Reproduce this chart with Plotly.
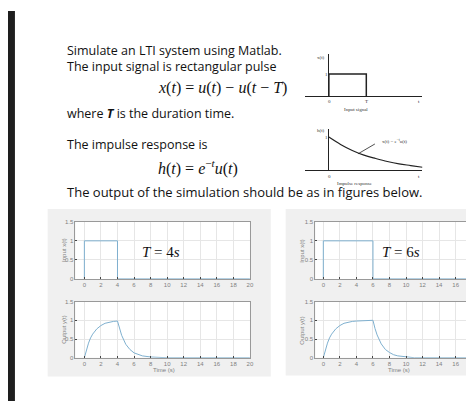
import plotly.graph_objects as go

W, H = 474, 401

# main simulation data
t_in4 = [0, 0, 4, 4, 20]
x_in4 = [0, 1, 1, 0, 0]
t_in6 = [0, 0, 6, 6, 20]
x_in6 = [0, 1, 1, 0, 0]

t_out4 = [0, 0.25, 0.5, 0.75, 1, 1.5, 2, 2.5, 3, 3.5, 4, 4.25, 4.5, 5, 5.5, 6, 6.5, 7, 8, 9, 10, 20]
y_out4 = [0, 0.22, 0.39, 0.53, 0.63, 0.77, 0.86, 0.92, 0.95, 0.97, 0.98, 0.76, 0.6, 0.36, 0.22, 0.13, 0.08, 0.05, 0.02, 0.01, 0, 0]
t_out6 = [0, 0.25, 0.5, 0.75, 1, 1.5, 2, 2.5, 3, 3.5, 4, 5, 6, 6.25, 6.5, 7, 7.5, 8, 8.5, 9, 10, 11, 20]
y_out6 = [0, 0.22, 0.39, 0.53, 0.63, 0.77, 0.86, 0.92, 0.95, 0.97, 0.98, 0.99, 1.0, 0.78, 0.61, 0.37, 0.22, 0.14, 0.08, 0.05, 0.02, 0, 0]

# sketches
t_sk_in = [0, 0, 1.6, 1.6]
x_sk_in = [0, 1, 1, 0]
t_sk_h = [0, 0.5, 1, 1.5, 2, 2.5, 3, 3.5, 4]
h_sk = [1, 0.78, 0.6, 0.46, 0.36, 0.27, 0.2, 0.15, 0.1]

BLUE = "#7fb0cf"
TICK = "#808080"


def px(x):
    return x / W


def py(y):
    return 1 - y / H


fig = go.Figure()


def add_axes(n, x0, x1, y0, y1, xr, yr, xa, ya):
    fig.update_layout(**{
        f"xaxis{n}": dict(xa, domain=[px(x0), px(x1)], range=xr, anchor=f"y{n}"),
        f"yaxis{n}": dict(ya, domain=[py(y1), py(y0)], range=yr, anchor=f"x{n}"),
    })


tf = dict(size=6, color=TICK, family="Liberation Sans")
mat_x = dict(tickvals=list(range(0, 21, 2)), showgrid=True, gridcolor="#e6e6e6", zeroline=False,
             showline=True, linecolor="#999", mirror=True, ticks="inside", ticklen=2, tickfont=tf)
mat_y = dict(tickvals=[0, 0.5, 1, 1.5], showgrid=True, gridcolor="#e6e6e6", zeroline=False,
             showline=True, linecolor="#999", mirror=True, ticks="inside", ticklen=2, tickfont=tf)

add_axes(1, 68, 244, 214, 272, [-1.08, 20], [0, 1.5], mat_x, mat_y)
add_axes(2, 68, 244, 295, 352, [-1.08, 20], [0, 1.5], mat_x, mat_y)
add_axes(3, 310, 474, 214, 272, [-0.96, 18.7], [0, 1.5], mat_x, mat_y)
add_axes(4, 310, 474, 295, 352, [-0.96, 18.7], [0, 1.5], mat_x, mat_y)

sk = dict(showgrid=False, showticklabels=False, zeroline=True, zerolinecolor="#222", zerolinewidth=1)
add_axes(5, 300, 418, 44, 87, [-1, 4], [0, 1.87], sk, sk)
add_axes(6, 300, 418, 120, 162, [-1, 4], [0, 1.235], sk, sk)

for n, t, v in [(1, t_in4, x_in4), (2, t_out4, y_out4), (3, t_in6, x_in6), (4, t_out6, y_out6)]:
    fig.add_trace(go.Scatter(x=t, y=v, mode="lines", line=dict(color=BLUE, width=1),
                             xaxis=f"x{n}", yaxis=f"y{n}"))
fig.add_trace(go.Scatter(x=t_sk_in, y=x_sk_in, mode="lines", line=dict(color="#222", width=1.5),
                         xaxis="x5", yaxis="y5"))
fig.add_trace(go.Scatter(x=t_sk_h, y=h_sk, mode="lines", line=dict(color="#222", width=1.2, shape="spline"),
                         xaxis="x6", yaxis="y6"))


def box(x0, x1, y0, y1, color):
    return dict(type="rect", xref="paper", yref="paper", x0=px(x0), x1=px(x1), y0=py(y1), y1=py(y0),
                fillcolor=color, line_width=0, layer="below")


shapes = [
    box(0, 7, 0, H, "#1e1e1e"),
    box(40, 265, 201, 371, "#f0f0f0"),
    box(280, W, 201, 370, "#f0f0f0"),
    box(68, 244, 214, 272, "white"),
    box(68, 244, 295, 352, "white"),
    box(310, W, 214, 272, "white"),
    box(310, W, 295, 352, "white"),
    dict(type="line", xref="paper", yref="paper", x0=px(353), x1=px(370), y0=py(145), y1=py(135),
         line=dict(color="#222", width=0.8)),
]

SANS = "Open Sans"
SERIF = "Liberation Serif"
ann = []


def text(x, y, s, size=12.5, family=SANS, xanchor="left", color="#111", angle=0):
    ann.append(dict(x=px(x), y=py(y), xref="paper", yref="paper", text=s, showarrow=False, textangle=angle,
                    xanchor=xanchor, yanchor="middle", font=dict(size=size, family=family, color=color)))


text(57, 40, "Simulate an LTI system using Matlab.")
text(57, 56, "The input signal is rectangular pulse")
text(149, 78, "<i>x</i>(<i>t</i>) = <i>u</i>(<i>t</i>) − <i>u</i>(<i>t</i> − <i>T</i>)", size=16, family=SERIF)
text(57, 104, "where <b><i>T</i></b> is the duration time.")
text(57, 136, "The impulse response is")
text(149, 159, "<i>h</i>(<i>t</i>) = <i>e</i><sup>−<i>t</i></sup><i>u</i>(<i>t</i>)", size=16, family=SERIF)
text(57, 184, "The output of the simulation should be as in figures below.", size=13)

text(133, 245, "<i>T</i> = 4<i>s</i>", size=15, family=SERIF)
text(375, 245, "<i>T</i> = 6<i>s</i>", size=15, family=SERIF)

for x0 in (57, 297):
    text(x0, 243, "Input x(t)", size=6, family="Liberation Sans", xanchor="center", color=TICK, angle=-90)
    text(x0, 324, "Output y(t)", size=6, family="Liberation Sans", xanchor="center", color=TICK, angle=-90)
text(157, 364, "Time (s)", size=6, family="Liberation Sans", xanchor="center", color=TICK)
text(394, 364, "Time (s)", size=6, family="Liberation Sans", xanchor="center", color=TICK)

# sketch labels
for x, y, s in [(316, 47, "x(t)"), (321, 64, "1"), (324, 92, "0"), (362, 92, "T"), (414, 92, "t"),
                (351, 100, "Input signal"), (316, 121, "h(t)"), (321, 128, "1"), (324, 168, "0"),
                (415, 168, "t"), (350, 175, "Impulse response"), (390, 132, "x(t) = e<sup>−t</sup>u(t)")]:
    text(x, y, s, size=5, family=SERIF, xanchor="center", color="#333")

fig.update_layout(width=W, height=H, margin=dict(l=0, r=0, t=0, b=0), showlegend=False,
                  paper_bgcolor="white", plot_bgcolor="rgba(0,0,0,0)", shapes=shapes, annotations=ann)
fig.write_html("out.html")
